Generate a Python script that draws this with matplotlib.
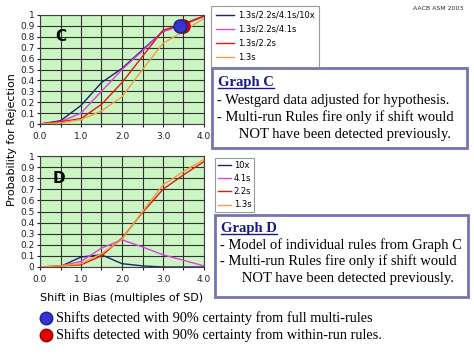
import numpy as np
import matplotlib
matplotlib.use("Agg")
import matplotlib.pyplot as plt
from matplotlib.lines import Line2D
from matplotlib.patches import Rectangle

shift = [0.0, 0.5, 1.0, 1.5, 2.0, 2.5, 3.0, 3.5, 4.0]

# Graph C
c_labels = ["1.3s/2.2s/4.1s/10x", "1.3s/2.2s/4.1s", "1.3s/2.2s", "1.3s"]
c_full = [0, 0.03, 0.17, 0.38, 0.51, 0.68, 0.85, 0.91, 0.99]
c_414 = [0, 0.02, 0.10, 0.30, 0.50, 0.67, 0.85, 0.91, 0.99]
c_22 = [0, 0.02, 0.05, 0.18, 0.38, 0.62, 0.86, 0.92, 0.99]
c_13 = [0, 0.01, 0.04, 0.12, 0.25, 0.50, 0.74, 0.85, 0.97]

# Graph D
d_labels = ["10x", "4.1s", "2.2s", "1.3s"]
d_10x = [0, 0.005, 0.09, 0.11, 0.03, 0.01, 0.0, 0.0, 0.0]
d_41 = [0, 0.01, 0.05, 0.17, 0.245, 0.18, 0.11, 0.06, 0.01]
d_22 = [0, 0.01, 0.02, 0.10, 0.26, 0.49, 0.70, 0.83, 0.95]
d_13 = [0, 0.01, 0.03, 0.12, 0.25, 0.50, 0.74, 0.86, 0.97]

# 90% detection points
blue_pt = (3.41, 0.90)
red_pt = (3.49, 0.90)

colors = ["#1c2470", "#e040e0", "#e01818", "#f0a040"]
bg = "#ccf5c4"

W, H = 474, 355
fig = plt.figure(figsize=(W / 100, H / 100), dpi=100)
fig.patch.set_facecolor("white")


def ax_at(l, t, r, b):
    return fig.add_axes([l / W, 1 - b / H, (r - l) / W, (b - t) / H])


def style(ax):
    ax.set_facecolor(bg)
    ax.set_xlim(0, 4)
    ax.set_ylim(0, 1)
    ax.set_xticks(np.arange(0, 4.01, 0.5))
    ax.set_xticklabels(["0.0", "", "1.0", "", "2.0", "", "3.0", "", "4.0"])
    ax.set_yticks(np.arange(0, 1.001, 0.1))
    ax.set_yticklabels(["0"] + ["%.1f" % v for v in np.arange(0.1, 0.95, 0.1)] + ["1"])
    ax.grid(True, color="#303030", linewidth=0.8)
    ax.set_axisbelow(True)
    ax.tick_params(labelsize=6.5, length=2, colors="#202020")
    ax.tick_params(axis="x", pad=4)
    ax.tick_params(axis="y", pad=2)
    for s in ax.spines.values():
        s.set_color("#404040")
        s.set_linewidth(0.8)


axC = ax_at(40, 15, 204, 124)
style(axC)
linesC = []
for ys, col, lab in zip([c_full, c_414, c_22, c_13], colors, c_labels):
    l, = axC.plot(shift, ys, color=col, linewidth=1.0, label=lab)
    linesC.append(l)
axC.plot([red_pt[0]], [red_pt[1]], "o", color="#e00000", markersize=9.5, markeredgecolor="#b00000", zorder=5)
axC.plot([blue_pt[0]], [blue_pt[1]], "o", color="#3434d0", markersize=9.5, markeredgecolor="#20208a", zorder=6)
axC.text(0.5, 0.8, "C", fontsize=11, fontweight="bold", ha="center", va="center")

axD = ax_at(40, 156, 204, 267)
style(axD)
linesD = []
for ys, col, lab in zip([d_10x, d_41, d_22, d_13], colors, d_labels):
    l, = axD.plot(shift, ys, color=col, linewidth=1.0, label=lab)
    linesD.append(l)
axD.text(0.45, 0.8, "D", fontsize=11, fontweight="bold", ha="center", va="center")
axD.set_xlabel("Shift in Bias (multiples of SD)", fontsize=8, labelpad=6)

fig.text(12 / W, 1 - 140 / H, "Probability for Rejection", rotation=90, fontsize=8,
         ha="center", va="center")

fig.text(438 / W, 1 - 8 / H, "AACB ASM 2003", fontsize=4.5, ha="center", va="center", color="#303030")

legC = fig.legend(linesC, c_labels, loc="upper left", bbox_to_anchor=(211 / W, 1 - 6 / H),
                  fontsize=6, frameon=True, fancybox=False, edgecolor="#808080",
                  handlelength=2.2, labelspacing=0.6, borderpad=0.6, handletextpad=0.4,
                  borderaxespad=0)
legC.get_frame().set_linewidth(0.8)
legD = fig.legend(linesD, d_labels, loc="upper left", bbox_to_anchor=(215 / W, 1 - 158 / H),
                  fontsize=6, frameon=True, fancybox=False, edgecolor="#808080",
                  handlelength=1.6, labelspacing=0.5, borderpad=0.35, handletextpad=0.3,
                  borderaxespad=0)
legD.get_frame().set_linewidth(0.8)


def textbox(l, t, r, b, title, title_y, lines, line_ys):
    fig.add_artist(Rectangle((l / W, 1 - b / H), (r - l) / W, (b - t) / H,
                             transform=fig.transFigure, facecolor="white",
                             edgecolor="#7474b4", linewidth=2))
    tt = fig.text((l + 6) / W, 1 - title_y / H, title, fontsize=10.5, fontweight="bold",
                  family="Liberation Serif", color="#18188c", va="baseline")
    # underline the title
    fig.canvas.draw()
    bb = tt.get_window_extent()
    fig.add_artist(Line2D([bb.x0 / W, bb.x1 / W], [1 - (title_y + 2) / H] * 2,
                          color="#18188c", linewidth=1.0, transform=fig.transFigure))
    for ln, y in zip(lines, line_ys):
        fig.text((l + 5) / W, 1 - y / H, ln, fontsize=10.5, family="Liberation Serif",
                 color="black", va="baseline")


textbox(212, 68, 467, 148, "Graph C", 86,
        ["- Westgard data adjusted for hypothesis.",
         "- Multi-run Rules fire only if shift would",
         "      NOT have been detected previously."], [104, 121, 138])
textbox(215, 215, 468, 297, "Graph D", 232,
        ["- Model of individual rules from Graph C",
         "- Multi-run Rules fire only if shift would",
         "      NOT have been detected previously."], [249, 265, 282])

fig.add_artist(Line2D([46 / W], [1 - 318 / H], marker="o", color="#3434d0", markersize=9,
                      markeredgecolor="#20208a", transform=fig.transFigure))
fig.add_artist(Line2D([46 / W], [1 - 335 / H], marker="o", color="#e00000", markersize=9,
                      markeredgecolor="#a00000", transform=fig.transFigure))
fig.text(56 / W, 1 - 318 / H, "Shifts detected with 90% certainty from full multi-rules",
         fontsize=10.3, family="Liberation Serif", va="center")
fig.text(56 / W, 1 - 335 / H, "Shifts detected with 90% certainty from within-run rules.",
         fontsize=10.3, family="Liberation Serif", va="center")

fig.savefig("out.png", dpi=100)
